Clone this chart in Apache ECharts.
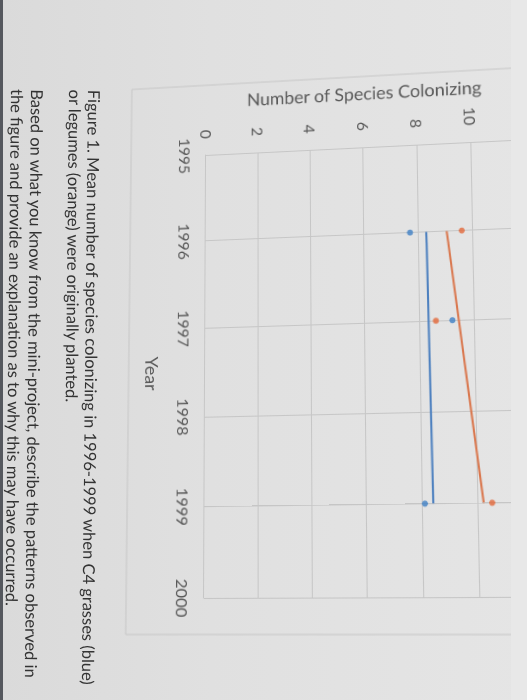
<!DOCTYPE html>
<html>
<head>
<meta charset="utf-8">
<script src="https://cdn.jsdelivr.net/npm/echarts@6/dist/echarts.min.js"></script>
<style>
  html, body { margin: 0; padding: 0; width: 527px; height: 700px; overflow: hidden; }
  body { background: linear-gradient(90deg, #dadada 0%, #e0e0e0 40%, #e5e5e5 100%); position: relative; }
  #chart { position: absolute; left: 0; top: 0; width: 720px; height: 640px; transform-origin: 0 0; }
  #edgeLeft { position: absolute; left: 0; top: 0; width: 3px; height: 700px; background: #55585e; z-index: 3; }
  #beyond { position: absolute; left: 511px; top: 0; width: 16px; height: 700px; background: #e8e8e8; z-index: 2; }
  #caption { position: absolute; left: 110px; top: 90px; width: 640px; height: 110px;
             transform-origin: 0 0; transform: rotate(90.6deg);
             font-family: Lato, "Open Sans", sans-serif; font-size: 16.5px; line-height: 19px; color: #333; }
  #caption div { position: absolute; left: 0; white-space: nowrap; }
</style>
</head>
<body>
<div id="chart"></div>
<div id="caption"></div>
<div id="beyond"></div>
<div id="edgeLeft"></div>
<script>
// ---- data ----
const yearTicks = [1995, 1996, 1997, 1998, 1999, 2000];
const sampleYears = [1996, 1997, 1999];
const c4Grasses = [7.7, 9.2, 8.1];      // blue points
const legumes = [9.6, 8.6, 10.5];       // orange points
const trendYears = [1996, 1999];
const c4Trend = [8.3, 8.4];             // blue linear trendline ends
const legumeTrend = [9.05, 10.2];       // orange linear trendline ends
const valueTicks = [0, 2, 4, 6, 8, 10, 12];

const captionLines = [
  'Figure 1. Mean number of species colonizing in 1996-1999 when C4 grasses (blue)',
  'or legumes (orange) were originally planted.',
  'Based on what you know from the mini-project, describe the patterns observed in',
  'the figure and provide an explanation as to why this may have occurred.'
];

const FONT = 'Lato, "Open Sans", sans-serif';
const BLUE = '#3f7fc4', BLUE_LINE = '#4d80bf';
const ORANGE = '#e2683a', ORANGE_LINE = '#d9774e';
const GRID_C = '#c6c6c6';

const pair = (xs, ys) => xs.map((x, i) => [x, ys[i]]);

// caption below the chart (page is photographed rotated)
const capTops = [7, 26, 64, 84];
const cap = document.getElementById('caption');
captionLines.forEach((t, i) => {
  const d = document.createElement('div');
  d.textContent = t;
  d.style.top = capTops[i] + 'px';
  cap.appendChild(d);
});

const dom = document.getElementById('chart');
const chart = echarts.init(dom, null, { renderer: 'svg' });

chart.setOption({
  animation: false,
  grid: { left: 155, right: 122, top: 72, bottom: 248 },
  xAxis: {
    type: 'value', min: yearTicks[0], max: yearTicks[yearTicks.length - 1], interval: 1,
    name: 'Year', nameLocation: 'middle', nameGap: 45,
    nameTextStyle: { fontSize: 18, fontFamily: FONT, color: '#595959' },
    axisLine: { show: true, lineStyle: { color: GRID_C, width: 1 } },
    axisTick: { show: false },
    axisLabel: { fontSize: 16, fontFamily: FONT, color: '#595959', margin: 14, formatter: v => String(v) },
    splitLine: { show: true, lineStyle: { color: GRID_C, width: 1 } }
  },
  yAxis: {
    type: 'value', min: valueTicks[0], max: valueTicks[valueTicks.length - 1], interval: 2,
    name: 'Number of Species Colonizing', nameLocation: 'middle', nameGap: 41,
    nameTextStyle: { fontSize: 18, fontFamily: FONT, color: '#595959' },
    axisLine: { show: false }, axisTick: { show: false },
    axisLabel: { fontSize: 16, fontFamily: FONT, color: '#595959', margin: 17, showMaxLabel: false },
    splitLine: { show: true, lineStyle: { color: GRID_C, width: 1 } }
  },
  graphic: [
    { type: 'rect', silent: true, shape: { x: 82, y: -40, width: 551, height: 510 },
      style: { fill: 'none', stroke: GRID_C, lineWidth: 1 } }
  ],
  series: [
    { name: 'C4 grasses trend', type: 'line', data: pair(trendYears, c4Trend), showSymbol: false,
      lineStyle: { color: BLUE_LINE, width: 2 }, z: 2 },
    { name: 'Legumes trend', type: 'line', data: pair(trendYears, legumeTrend), showSymbol: false,
      lineStyle: { color: ORANGE_LINE, width: 2 }, z: 2 },
    { name: 'C4 grasses', type: 'scatter', data: pair(sampleYears, c4Grasses), symbolSize: 6,
      itemStyle: { color: BLUE }, z: 3 },
    { name: 'Legumes', type: 'scatter', data: pair(sampleYears, legumes), symbolSize: 6,
      itemStyle: { color: ORANGE }, z: 3 }
  ]
});

// ---- place the rendered chart the way it appears in the photo (rotated page, slight perspective) ----
function solve(A, b) {
  const n = b.length;
  const M = A.map((r, i) => r.concat([b[i]]));
  for (let c = 0; c < n; c++) {
    let p = c;
    for (let r = c + 1; r < n; r++) if (Math.abs(M[r][c]) > Math.abs(M[p][c])) p = r;
    [M[c], M[p]] = [M[p], M[c]];
    for (let r = 0; r < n; r++) {
      if (r === c) continue;
      const f = M[r][c] / M[c][c];
      for (let k = c; k <= n; k++) M[r][k] -= f * M[c][k];
    }
  }
  return M.map((r, i) => r[n] / r[i]);
}
function homography(src, dst) {
  const A = [], b = [];
  for (let i = 0; i < 4; i++) {
    const [x, y] = src[i], [X, Y] = dst[i];
    A.push([x, y, 1, 0, 0, 0, -x * X, -y * X]); b.push(X);
    A.push([0, 0, 0, x, y, 1, -x * Y, -y * Y]); b.push(Y);
  }
  return solve(A, b);
}
const corners = [[1995, 0], [1995, 10], [2000, 0], [2000, 10]];
const src = corners.map(c => chart.convertToPixel({ gridIndex: 0 }, c));
const dst = [[206, 155], [471, 142], [204, 598], [480, 597]];
const h = homography(src, dst);
dom.style.transform = 'matrix3d(' + [h[0], h[3], 0, h[6], h[1], h[4], 0, h[7], 0, 0, 1, 0, h[2], h[5], 0, 1].join(',') + ')';
</script>
</body>
</html>
